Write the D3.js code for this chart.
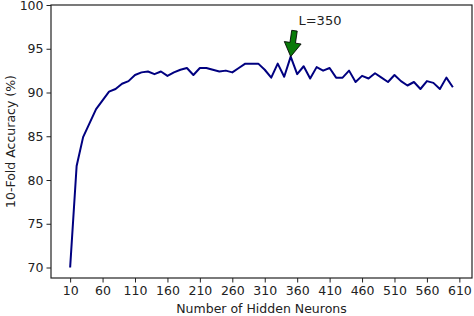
<!DOCTYPE html>
<html>
<head>
<meta charset="utf-8">
<script src="https://cdn.jsdelivr.net/npm/d3@7"></script>
<style>
  body { margin: 0; background: #fff; }
  svg { font-family: "DejaVu Sans", sans-serif; }
</style>
</head>
<body>
<svg id="chart" width="474" height="316"></svg>
<script>
// hidden neuron counts, 10..600
const neurons = d3.range(10, 601, 10);
const accuracy = [
    70.0, 81.6, 84.9, 86.5, 88.1, 89.1, 90.1, 90.4, 91.0, 91.3,
    92.0, 92.3, 92.4, 92.1, 92.4, 91.9, 92.3, 92.6, 92.8, 92.0,
    92.8, 92.8, 92.6, 92.4, 92.5, 92.3, 92.8, 93.3, 93.3, 93.3,
    92.6, 91.7, 93.3, 91.8, 94.1, 92.1, 93.0, 91.6, 92.9, 92.5,
    92.8, 91.7, 91.7, 92.5, 91.2, 91.9, 91.6, 92.2, 91.7, 91.2,
    92.0, 91.3, 90.8, 91.2, 90.4, 91.3, 91.1, 90.4, 91.7, 90.6
];
const xTicks = [10, 60, 110, 160, 210, 260, 310, 360, 410, 460, 510, 560, 610];
const yTicks = [70, 75, 80, 85, 90, 95, 100];
const best = { x: 350, y: 94.1, label: "L=350", textX: 362, textY: 97.75 };

const svg = d3.select("#chart");
const margin = { left: 51, right: 2, top: 5, bottom: 38 };
const width = 474 - margin.left - margin.right;
const height = 316 - margin.top - margin.bottom;

const x = d3.scaleLinear().domain([-19.5, 629.5]).range([0, width]);
const y = d3.scaleLinear().domain([68.8, 100]).range([height, 0]);

const g = svg.append("g")
    .attr("transform", `translate(${margin.left},${margin.top})`);

// axes
const xAxis = g.append("g")
    .attr("transform", `translate(0,${height})`)
    .call(d3.axisBottom(x).tickValues(xTicks).tickSize(4.5).tickPadding(4));
const yAxis = g.append("g")
    .call(d3.axisLeft(y).tickValues(yTicks).tickSize(4.5).tickPadding(3));

[xAxis, yAxis].forEach(a => {
    a.selectAll("text").attr("font-size", 12.5).attr("fill", "#222")
        .attr("font-family", "DejaVu Sans, sans-serif");
    a.selectAll("line").attr("stroke", "#222").attr("stroke-width", 1);
    a.select(".domain").remove();
});

// frame
g.append("rect")
    .attr("width", width)
    .attr("height", height)
    .attr("fill", "none")
    .attr("stroke", "#222")
    .attr("stroke-width", 1.2);

// line
const line = d3.line()
    .x((d, i) => x(neurons[i]))
    .y(d => y(d));

g.append("path")
    .datum(accuracy)
    .attr("d", line)
    .attr("fill", "none")
    .attr("stroke", "#000080")
    .attr("stroke-width", 2)
    .attr("stroke-linejoin", "round");

// annotation arrow
const tip = [x(best.x), y(best.y)];
const tail = [x(best.textX) - 4, y(best.textY) + 6];
const dx = tip[0] - tail[0], dy = tip[1] - tail[1];
const len = Math.hypot(dx, dy);
const angle = Math.atan2(dy, dx) * 180 / Math.PI;
const headLen = 14, headW = 8.5, shaftW = 2.8;
const arrowPts = [
    [0, -shaftW], [len - headLen, -shaftW], [len - headLen, -headW],
    [len, 0],
    [len - headLen, headW], [len - headLen, shaftW], [0, shaftW]
];

g.append("polygon")
    .attr("points", arrowPts.map(p => p.join(",")).join(" "))
    .attr("transform", `translate(${tail[0]},${tail[1]}) rotate(${angle})`)
    .attr("fill", "#0a7a0a")
    .attr("stroke", "#000")
    .attr("stroke-width", 0.8)
    .attr("stroke-linejoin", "miter");

g.append("text")
    .attr("x", x(best.textX))
    .attr("y", y(best.textY))
    .attr("font-size", 13)
    .attr("fill", "#222")
    .text(best.label);

// axis labels
svg.append("text")
    .attr("x", margin.left + width / 2)
    .attr("y", 313)
    .attr("text-anchor", "middle")
    .attr("font-size", 12.5)
    .attr("fill", "#222")
    .text("Number of Hidden Neurons");

svg.append("text")
    .attr("transform", `translate(15,${margin.top + height / 2}) rotate(-90)`)
    .attr("text-anchor", "middle")
    .attr("font-size", 12.5)
    .attr("fill", "#222")
    .text("10-Fold Accuracy (%)");
</script>
</body>
</html>
